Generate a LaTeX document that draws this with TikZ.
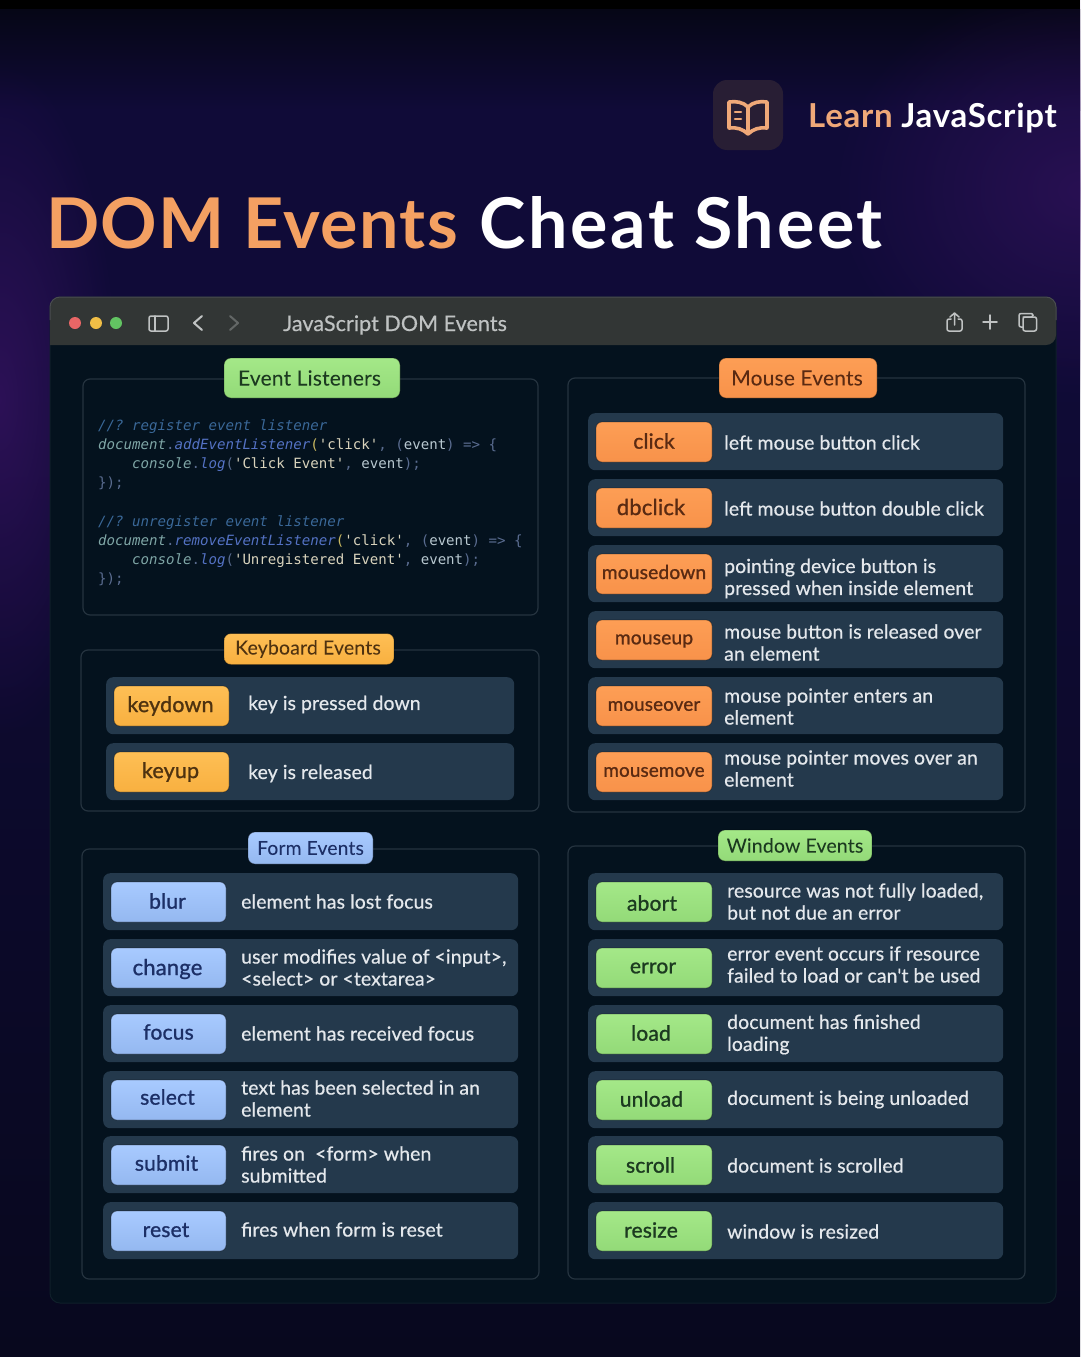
\documentclass[tikz,border=0pt]{standalone}
\usepackage{fontspec}
\setmainfont{Lato}
\setmonofont{DejaVu Sans Mono}
\newfontfamily\medfont[FakeBold=0.6,LetterSpace=0.6]{Lato}
\newfontfamily\semifont[FakeBold=1.1,LetterSpace=0.8]{Lato}
\usetikzlibrary{fadings}
\definecolor{bgtop}{HTML}{060616}
\definecolor{bgmid}{HTML}{100B38}
\definecolor{bgbot}{HTML}{08081E}
\definecolor{tint}{HTML}{3C1468}
\definecolor{winfill}{HTML}{04121E}
\definecolor{winedge}{HTML}{0F1F2A}
\definecolor{barfill}{HTML}{323635}
\definecolor{barhigh}{HTML}{4A4C50}
\definecolor{panelline}{HTML}{25333F}
\definecolor{rowfill}{HTML}{24394C}
\definecolor{rowtext}{HTML}{E4E8EC}
\definecolor{inkorange}{HTML}{5A2A12}
\definecolor{inkyellow}{HTML}{4E3210}
\definecolor{inkblue}{HTML}{1C2F66}
\definecolor{inkgreen}{HTML}{1C3A20}
\definecolor{orangeA}{HTML}{FD9E55}
\definecolor{orangeB}{HTML}{F8924A}
\definecolor{yellowA}{HTML}{FEBF55}
\definecolor{yellowB}{HTML}{F8B040}
\definecolor{blueA}{HTML}{A8CAFF}
\definecolor{blueB}{HTML}{94B8F0}
\definecolor{greenA}{HTML}{A4E888}
\definecolor{greenB}{HTML}{93DA78}
\definecolor{titleorange}{HTML}{F4A062}
\definecolor{learnorange}{HTML}{EFA878}
\definecolor{iconline}{HTML}{BFC2C2}
\definecolor{tilefill}{HTML}{281E34}
\definecolor{dotred}{HTML}{E86666}
\definecolor{dotyellow}{HTML}{F0BE46}
\definecolor{dotgreen}{HTML}{62C462}
\definecolor{cComment}{HTML}{3A6898}
\definecolor{cDoc}{HTML}{7FA6A6}
\definecolor{cFunc}{HTML}{5472C4}
\definecolor{cStr}{HTML}{D9D3BC}
\definecolor{cVar}{HTML}{B8C8D0}
\definecolor{cPunc}{HTML}{5A6C90}
\definecolor{cYel}{HTML}{C9B860}
\tikzfading[name=softblob,inner color=transparent!0,outer color=transparent!100]
\tikzset{
  x=1pt,y=-1pt,
  panelbox/.style={draw=panelline,line width=1.2pt,rounded corners=7pt},
  rowbox/.style={anchor=north west,fill=rowfill,rounded corners=7pt,inner sep=0pt,minimum height=57pt},
  badge/.style={anchor=center,rounded corners=6pt,inner sep=0pt,minimum height=40pt,draw=black,draw opacity=.3,line width=.9pt},
  badgelabel/.style={anchor=center,inner sep=0pt},
  pill/.style={anchor=center,rounded corners=7pt,inner sep=0pt,draw=black,draw opacity=.3,line width=.9pt},
  rowlabel/.style={anchor=west,inner sep=0pt,align=left,text=rowtext,font=\medfont\fontsize{19.4}{22}\selectfont},
  codeline/.style={anchor=base west,inner sep=0pt,font=\ttfamily\fontsize{14.1}{17}\selectfont},
  orangebg/.style={top color=orangeA,bottom color=orangeB},
  yellowbg/.style={top color=yellowA,bottom color=yellowB},
  bluebg/.style={top color=blueA,bottom color=blueB},
  greenbg/.style={top color=greenA,bottom color=greenB},
  barline/.style={draw=iconline,line width=1.5pt,line join=round,line cap=round},
  bookline/.style={draw=learnorange,line width=3.6pt,line join=round,line cap=round},
}
% id, row x, row width, row top, badge centre x, badge width, text x, bg style, ink colour
\newcommand{\evrow}[9]{%
  \def\eid{#1}\def\erx{#2}\def\erw{#3}\def\ert{#4}\def\ebx{#5}\def\ebw{#6}\def\etx{#7}\def\est{#8}\def\eink{#9}\evrowC}
% [label options] label font size, label, [text options] description
\NewDocumentCommand{\evrowC}{O{}mmO{}m}{%
  \node[rowbox,minimum width=\erw pt] (\eid-row) at (\erx,\ert) {};
  \node[badge,\est,minimum width=\ebw pt] (\eid-badge) at (\ebx,\ert+29) {};
  \node[badgelabel,text=\eink,font=\semifont\fontsize{#2}{#2}\selectfont,#1] (\eid-name) at (\eid-badge) {#3};
  \node[rowlabel,#4] (\eid-text) at (\etx,\ert+29.5) {#5};
}
\newcommand{\cm}[1]{\textcolor{cComment}{\textit{#1}}}
\begin{document}
\begin{tikzpicture}
\useasboundingbox (0,0) rectangle (1080,1357);
% background
\shade[top color=bgtop,bottom color=bgmid] (0,9) rectangle (1080,110);
\fill[bgmid] (0,110) rectangle (1080,300);
\shade[top color=bgmid,bottom color=bgbot] (0,300) rectangle (1080,1357);
\fill[tint,opacity=.65,path fading=softblob] (0,400) ellipse (120 and 340);
\fill[tint,opacity=.55,path fading=softblob] (1080,190) ellipse (250 and 210);
\fill[black] (0,0) rectangle (1080,9);
% header
\fill[tilefill,rounded corners=14pt] (713,80) rectangle (783,150);
\draw[bookline] (748,107) .. controls (743,102) and (736,101) .. (729,102) -- (729,128) .. controls (736,127) and (743,129) .. (748,134) .. controls (753,129) and (760,127) .. (767,128) -- (767,102) .. controls (760,101) and (753,102) .. (748,107) -- cycle (748,107) -- (748,134);
\draw[bookline,line width=2.6pt] (735,112) -- (741,112) (735,119) -- (741,119);
\node[anchor=base west,inner sep=0pt,font=\bfseries\fontsize{33}{33}\selectfont\addfontfeature{LetterSpace=2.2}] (brand) at (808,127) {\textcolor{learnorange}{Learn} \textcolor{white}{JavaScript}};
\node[anchor=base west,inner sep=0pt,font=\bfseries\fontsize{70}{70}\selectfont] (title) at (46,248) {\addfontfeature{LetterSpace=1.9}\textcolor{titleorange}{DOM Events}\hspace{22pt}\addfontfeature{LetterSpace=3.8}\textcolor{white}{Cheat Sheet}};
% window
\fill[winfill,draw=winedge,line width=1pt,rounded corners=10pt] (50,297) rectangle (1056,1303);
\fill[barfill,rounded corners=10pt] (50,345) -- (50,297) -- (1056,297) -- (1056,345) [sharp corners] -- cycle;
\draw[barhigh,line width=1pt,rounded corners=10pt] (50,320) -- (50,297) -- (1056,297) -- (1056,320);
\fill[dotred] (75,323) circle (6);
\fill[dotyellow] (96,323) circle (6);
\fill[dotgreen] (116,323) circle (6);
\draw[barline,rounded corners=2pt] (149,316) rectangle (168,331);
\draw[barline] (155,316) -- (155,331);
\draw[barline,line width=2pt] (202,316) -- (194,323) -- (202,330);
\draw[draw=iconline!35!barfill,line width=2pt,line cap=round,line join=round] (230,316) -- (238,323) -- (230,330);
\node[anchor=base west,inner sep=0pt,text=iconline,font=\medfont\fontsize{21.4}{22}\selectfont] (wintitle) at (283,331) {JavaScript DOM Events};
\draw[barline,rounded corners=2pt] (951,319) -- (947,319) -- (947,331) -- (962,331) -- (962,319) -- (958,319);
\draw[barline] (954.5,325) -- (954.5,313) (950,317) -- (954.5,313) -- (959,317);
\draw[barline] (990,315) -- (990,329) (983,322) -- (997,322);
\draw[barline,rounded corners=2pt] (1023,317) -- (1033,317) -- (1033,313.5) -- (1019,313.5) -- (1019,327) -- (1023,327);
\draw[barline,rounded corners=2pt] (1023,317) rectangle (1036.5,331);
% panels
\draw[panelbox] (83,379) rectangle (538,615);
\draw[panelbox] (81,650) rectangle (539,811);
\draw[panelbox] (82,849) rectangle (539,1279);
\draw[panelbox] (568,378) rectangle (1025,812);
\draw[panelbox] (568,846) rectangle (1025,1279);
% panel titles
\node[pill,greenbg,text=inkgreen,minimum width=176pt,minimum height=40pt,font=\semifont\fontsize{21}{20}\selectfont] (t-listen) at (312,378) {\kern-5pt Event Listeners};
\node[pill,yellowbg,text=inkyellow,minimum width=170pt,minimum height=31pt,font=\semifont\fontsize{19.5}{20}\selectfont] (t-key) at (309,649) {\kern-2pt Keyboard Events};
\node[pill,bluebg,text=inkblue,minimum width=125pt,minimum height=32pt,font=\semifont\fontsize{19.3}{20}\selectfont] (t-form) at (310.5,848) {Form Events};
\node[pill,orangebg,text=inkorange,minimum width=158pt,minimum height=40pt,font=\semifont\fontsize{21}{20}\selectfont] (t-mouse) at (798,378) {\kern-2pt Mouse Events};
\node[pill,greenbg,text=inkgreen,minimum width=154pt,minimum height=31pt,font=\semifont\fontsize{19.5}{20}\selectfont] (t-win) at (795,845.5) {Window Events};
% code
\node[codeline] (c1) at (98,430) {\cm{//? register event listener}};
\node[codeline] (c2) at (98,449) {\textcolor{cDoc}{\textit{document}}\textcolor{cPunc}{.}\textcolor{cFunc}{\textit{addEventListener}}\textcolor{cYel}{(}\textcolor{cStr}{'click'}\textcolor{cPunc}{, (}\textcolor{cVar}{event}\textcolor{cPunc}{) =\kern0pt> \{}};
\node[codeline] (c3) at (98,468) {\phantom{0000}\textcolor{cDoc}{\textit{console}}\textcolor{cPunc}{.}\textcolor{cFunc}{\textit{log}}\textcolor{cPunc}{(}\textcolor{cStr}{'Click Event'}\textcolor{cPunc}{, }\textcolor{cVar}{event}\textcolor{cPunc}{);}};
\node[codeline] (c4) at (98,487) {\textcolor{cPunc}{\});}};
\node[codeline] (c5) at (98,526) {\cm{//? unregister event listener}};
\node[codeline] (c6) at (98,545) {\textcolor{cDoc}{\textit{document}}\textcolor{cPunc}{.}\textcolor{cFunc}{\textit{removeEventListener}}\textcolor{cYel}{(}\textcolor{cStr}{'click'}\textcolor{cPunc}{, (}\textcolor{cVar}{event}\textcolor{cPunc}{) =\kern0pt> \{}};
\node[codeline] (c7) at (98,564) {\phantom{0000}\textcolor{cDoc}{\textit{console}}\textcolor{cPunc}{.}\textcolor{cFunc}{\textit{log}}\textcolor{cPunc}{(}\textcolor{cStr}{'Unregistered Event'}\textcolor{cPunc}{, }\textcolor{cVar}{event}\textcolor{cPunc}{);}};
\node[codeline] (c8) at (98,583) {\textcolor{cPunc}{\});}};
% keyboard
\evrow{keydown}{106}{408}{677}{171.5}{115}{248}{yellowbg}{inkyellow}[xshift=-1pt]{21.5}{keydown}[yshift=2pt]{key is pressed down}
\evrow{keyup}{106}{408}{743}{171.5}{115}{248}{yellowbg}{inkyellow}[xshift=-1pt]{21.5}{keyup}[yshift=-1pt]{key is released}
% form
\evrow{blur}{103}{415}{873}{168.5}{115}{241}{bluebg}{inkblue}[xshift=-1pt,yshift=1pt]{21}{blur}[yshift=1pt]{element has lost focus}
\evrow{change}{103}{415}{939}{168.5}{115}{241}{bluebg}{inkblue}[xshift=-1pt,yshift=-1pt]{22}{change}[yshift=1pt]{user modifies value of <input>,\\<select> or <textarea>}
\evrow{focus}{103}{415}{1005}{168.5}{115}{241}{bluebg}{inkblue}[yshift=2pt]{21}{focus}[yshift=1pt]{element has received focus}
\evrow{select}{103}{415}{1071}{168.5}{115}{241}{bluebg}{inkblue}[xshift=-1pt,yshift=3pt]{21}{select}[yshift=2pt]{text has been selected in an\\element}
\evrow{submit}{103}{415}{1136}{168.5}{115}{241}{bluebg}{inkblue}[xshift=-2pt,yshift=2pt]{21}{submit}[yshift=1pt]{fires on \ <form> when\\submitted}
\evrow{reset}{103}{415}{1202}{168.5}{115}{241}{bluebg}{inkblue}[xshift=-2.5pt,yshift=1pt]{21}{reset}[yshift=2pt]{fires when form is reset}
% mouse
\evrow{click}{588}{415}{413}{654}{116}{724}{orangebg}{inkorange}[yshift=1pt]{21}{click}{left mouse button click}
\evrow{dbclick}{588}{415}{479}{654}{116}{724}{orangebg}{inkorange}[xshift=-3pt,yshift=1pt]{22}{dbclick}{left mouse button double click}
\evrow{mousedown}{588}{415}{545}{654}{116}{724}{orangebg}{inkorange}[yshift=2pt]{19.2}{mousedown}[yshift=-4pt]{pointing device button is\\pressed when inside element}
\evrow{mouseup}{588}{415}{611}{654}{116}{724}{orangebg}{inkorange}[yshift=-1pt]{19.2}{mouseup}[yshift=-2pt]{mouse button is released over\\an element}
\evrow{mouseover}{588}{415}{677}{654}{116}{724}{orangebg}{inkorange}{18.8}{mouseover}{mouse pointer enters an\\element}
\evrow{mousemove}{588}{415}{743}{654}{116}{724}{orangebg}{inkorange}{18.8}{mousemove}[yshift=4pt]{mouse pointer moves over an\\element}
% window
\evrow{abort}{588}{415}{873}{654}{116}{727}{greenbg}{inkgreen}[xshift=-2pt,yshift=-1pt]{21}{abort}[yshift=1pt]{resource was not fully loaded,\\but not due an error}
\evrow{error}{588}{415}{939}{654}{116}{727}{greenbg}{inkgreen}[xshift=-1pt]{21}{error}[yshift=4pt]{error event occurs if resource\\failed to load or can't be used}
\evrow{load}{588}{415}{1005}{654}{116}{727}{greenbg}{inkgreen}[xshift=-3pt,yshift=1pt]{21}{load}{document has finished\\loading}
\evrow{unload}{588}{415}{1071}{654}{116}{727}{greenbg}{inkgreen}[xshift=-2.5pt,yshift=1pt]{21}{unload}[yshift=1pt]{document is being unloaded}
\evrow{scroll}{588}{415}{1136}{654}{116}{727}{greenbg}{inkgreen}[xshift=-3.5pt]{21}{scroll}{document is scrolled}
\evrow{resize}{588}{415}{1202}{654}{116}{727}{greenbg}{inkgreen}[xshift=-3pt,yshift=1pt]{21}{resize}{window is resized}
\end{tikzpicture}
\end{document}
